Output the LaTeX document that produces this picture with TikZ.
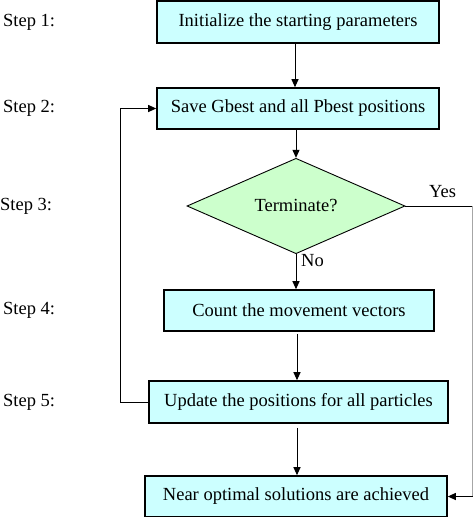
\documentclass[tikz,border=0pt]{standalone}
\usepackage{fontspec}
\setmainfont{Liberation Serif}
\usetikzlibrary{shapes.geometric,arrows.meta}
\definecolor{boxfill}{RGB}{204,255,255}
\definecolor{dfill}{RGB}{204,255,204}
\begin{document}
\begin{tikzpicture}[x=1pt,y=-1pt,
  txt/.style={font=\fontsize{18.5}{21}\selectfont},
  box/.style={txt,draw=black,line width=1.6pt,fill=boxfill,inner sep=0pt},
  dec/.style={txt,draw=black,line width=0.9pt,fill=dfill,diamond,inner sep=0pt,minimum width=218pt,minimum height=68pt},
  lbl/.style={txt,anchor=west,inner sep=0pt},
  arr/.style={line width=1pt,-{Triangle[length=8pt,width=7pt]}}]
\useasboundingbox (0,0) rectangle (474,517);
\node[box,minimum width=282pt,minimum height=42pt] (b1) at (298,22) {Initialize the starting parameters};
\node[box,minimum width=282pt,minimum height=41pt] (b2) at (298,108.5) {Save Gbest and all Pbest positions};
\node[dec] (d) at (296,206) {Terminate?};
\node[box,minimum width=270pt,minimum height=41pt] (b4) at (299,310.5) {Count the movement vectors};
\node[box,minimum width=299pt,minimum height=42pt] (b5) at (298.5,402) {Update the positions for all particles};
\node[box,minimum width=302pt,minimum height=41pt] (b6) at (296,496.5) {Near optimal solutions are achieved};
\node[lbl] (s1) at (3,22) {Step 1:};
\node[lbl] (s2) at (3,108) {Step 2:};
\node[lbl] (s3) at (0,206) {Step 3:};
\node[lbl] (s4) at (3,310) {Step 4:};
\node[lbl] (s5) at (3,402) {Step 5:};
\node[lbl] (yes) at (429,192) {Yes};
\node[lbl] (no) at (301,261) {No};
\draw[arr] (b1.south -| 295,0) -- (b2.north -| 295,0);
\draw[arr] (b2.south -| 296,0) -- (d.north);
\draw[arr] (d.south) -- (b4.north -| d.south);
\draw[arr] ([yshift=-2pt]b4.south -| 297,0) -- (b5.north -| 297,0);
\draw[arr] ([yshift=-4pt]b5.south -| 297,0) -- (b6.north -| 297,0);
\draw[arr] (b5.west) -- ++(-28,0) coordinate (lc) |- (b2.west);
\coordinate (yc) at (472.5,206);
\draw[line width=1pt] (d.east) -- (yc);
\draw[line width=1pt,black!35] (yc) -- (yc |- b6.east);
\draw[arr] (yc |- b6.east) -- (b6.east);
\end{tikzpicture}
\end{document}
